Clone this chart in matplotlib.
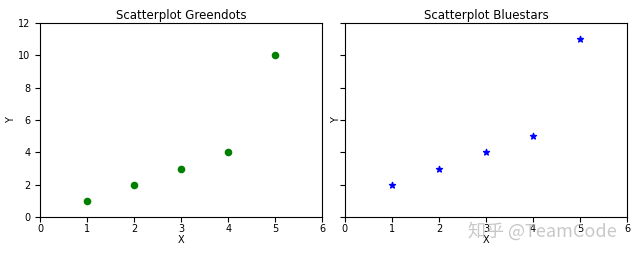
import matplotlib
matplotlib.use("Agg")
import matplotlib.pyplot as plt

x = [1, 2, 3, 4, 5]
y_green = [1, 2, 3, 4, 10]
y_blue = [2, 3, 4, 5, 11]

fig, (ax1, ax2) = plt.subplots(1, 2, figsize=(6.4, 2.56), dpi=100, sharey=True)

ax1.scatter(x, y_green, color="green", marker="o", s=20)
ax1.set_title("Scatterplot Greendots", fontsize=8.5, pad=3)
ax1.set_xlabel("X", fontsize=7, labelpad=1)
ax1.set_ylabel("Y", fontsize=7)
ax1.set_xlim(0, 6)
ax1.set_ylim(0, 12)

ax2.scatter(x, y_blue, color="blue", marker="*", s=20)
ax2.set_title("Scatterplot Bluestars", fontsize=8.5, pad=3)
ax2.set_xlabel("X", fontsize=7, labelpad=1)
ax2.set_ylabel("Y", fontsize=7)
ax2.set_xlim(0, 6)
ax2.set_ylim(0, 12)

for ax in (ax1, ax2):
    ax.tick_params(labelsize=7)
    ax.tick_params(axis="x", pad=1.5)

fig.subplots_adjust(left=0.0625, right=0.98, bottom=0.152, top=0.91, wspace=0.08)
ax1.yaxis.set_label_coords(-0.085, 0.5)
ax2.yaxis.set_label_coords(-0.015, 0.5)

fig.text(0.732, 0.075, "知乎 @TeamCode", fontsize=13, color="#bbbbbb", alpha=0.8,
         family=["Noto Sans CJK SC", "DejaVu Sans"])

fig.savefig("out.png")
